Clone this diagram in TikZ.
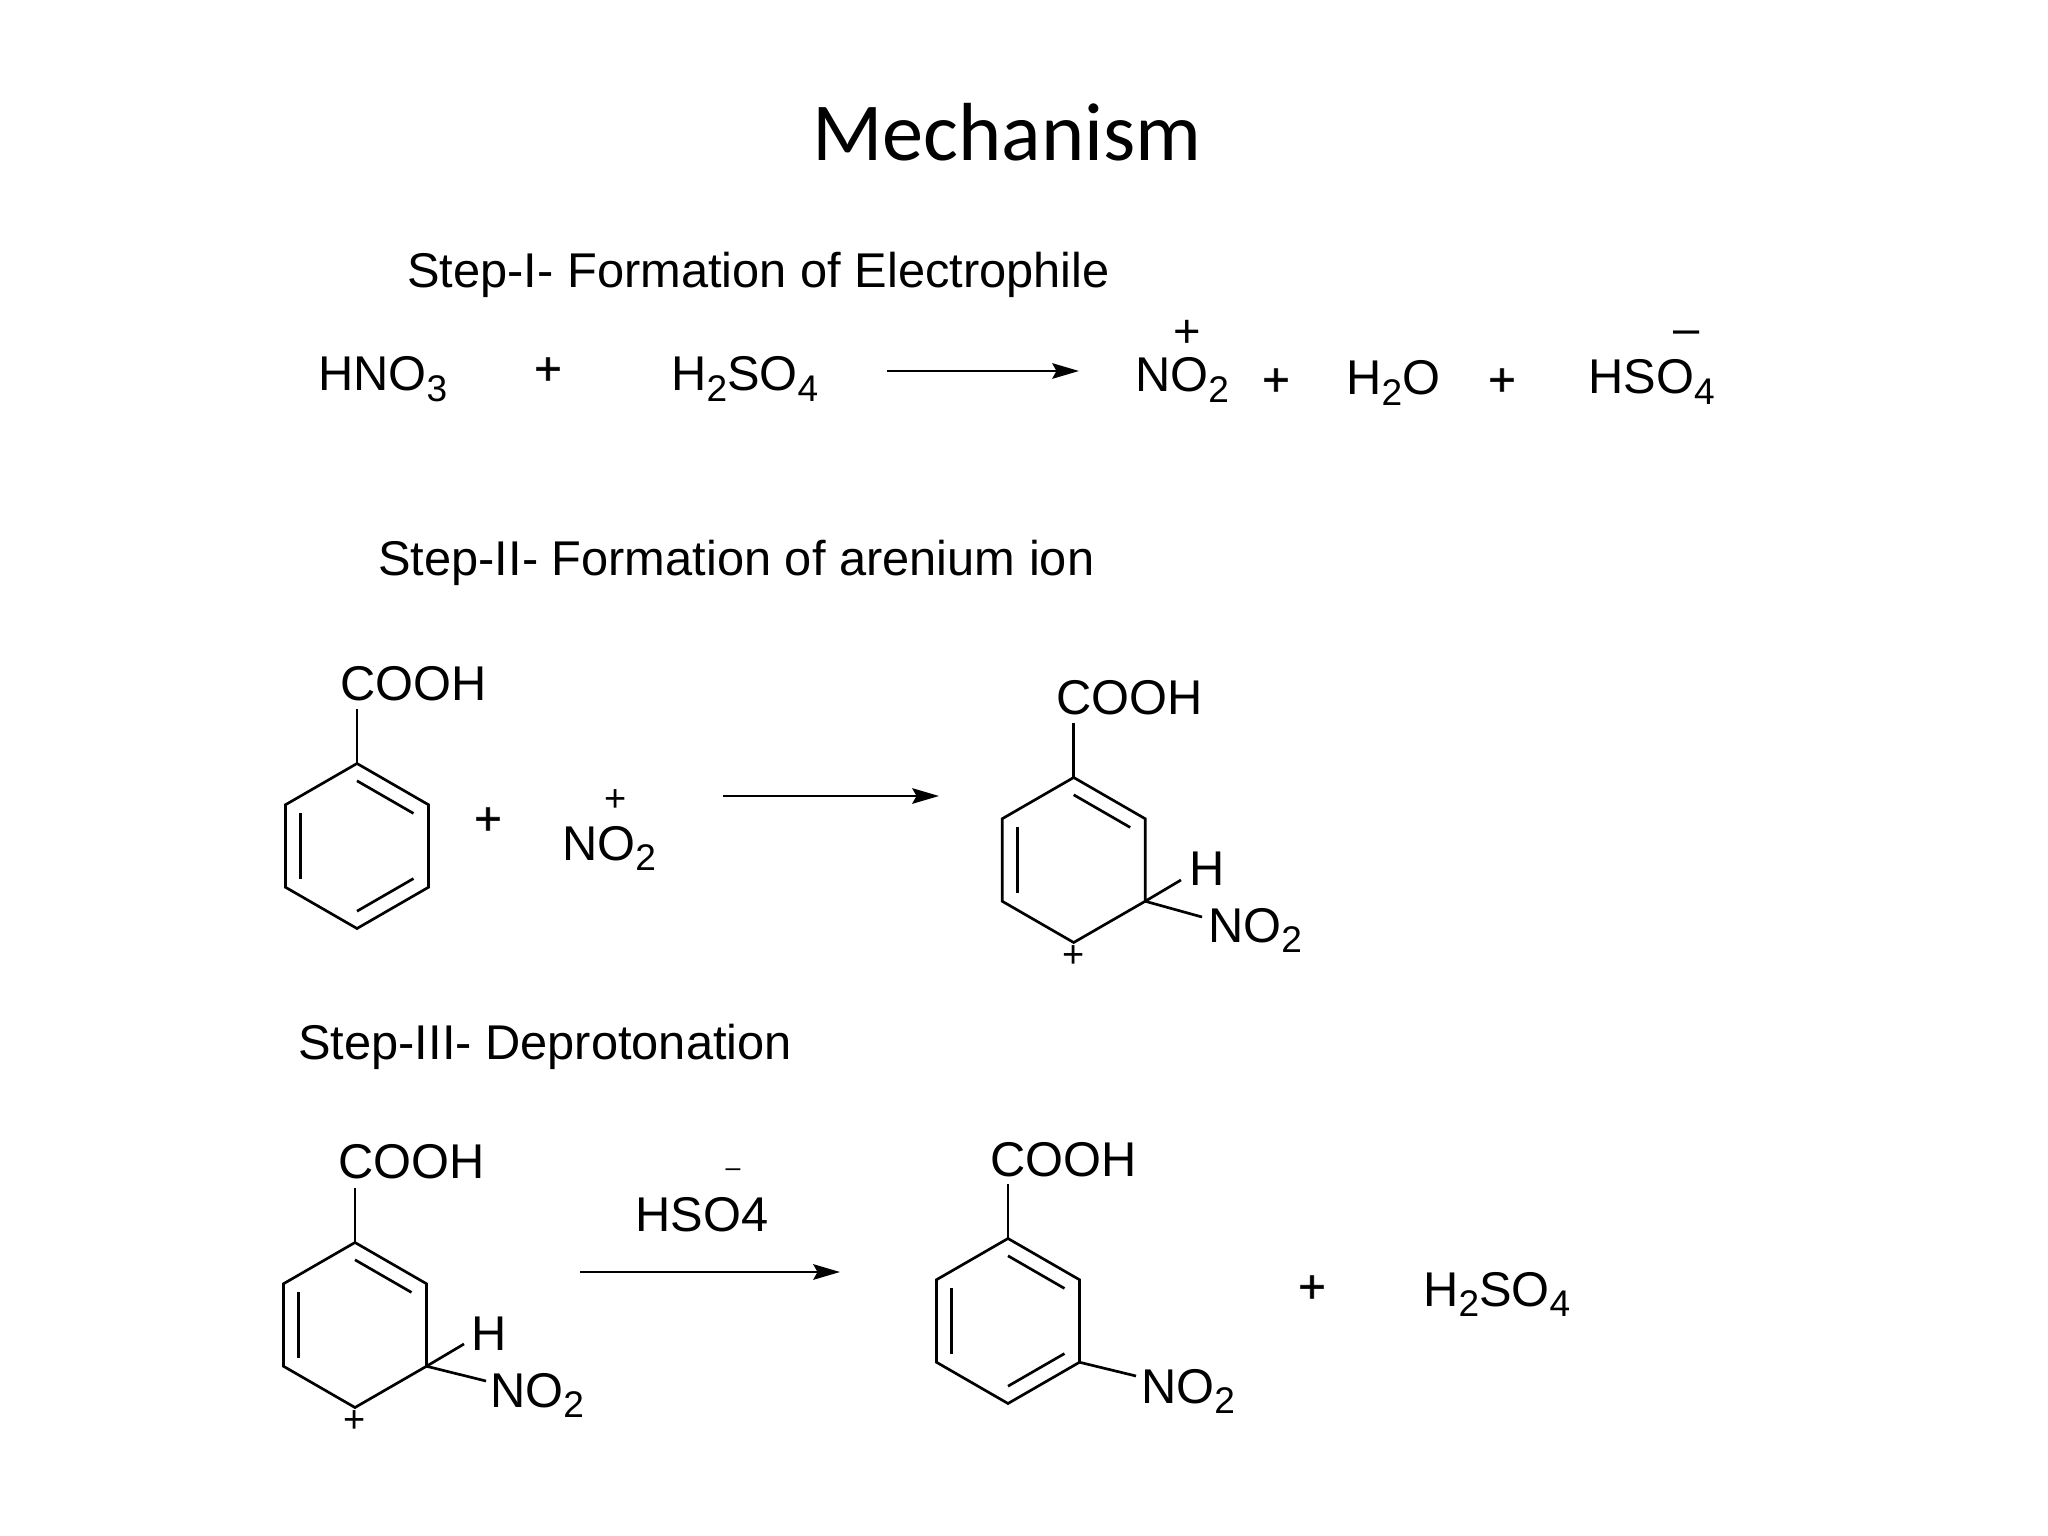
\documentclass[tikz,border=0pt]{standalone}
\usepackage{fontspec}
\usetikzlibrary{arrows.meta}
\setmainfont{Liberation Sans}
\newfontfamily\titlefont{Carlito}
\newfontfamily\plusfont[FakeBold=1.5]{Liberation Sans}
\newcommand{\chemsub}[1]{\raisebox{-0.22em}{\scalebox{0.76}{#1}}}
\tikzset{
    chem/.style={inner sep=0pt,anchor=base west,font=\fontsize{34.7}{40}\selectfont},
    bplus/.style={inner sep=0pt,font=\plusfont\fontsize{33}{40}\selectfont},
    chg/.style={inner sep=0pt,font=\fontsize{33.5}{40}\selectfont},
    chgs/.style={inner sep=0pt,font=\fontsize{27}{30}\selectfont},
    bond/.style={line width=1.9pt},
    rxn/.style={line width=1.9pt,-{Stealth[length=19pt,width=11pt,inset=3pt]}}
}
% ring: name, centre x, centre y
\newcommand{\arring}[3]{
    \foreach \n/\dx/\dy in {1/0/-82.5,2/71.5/-41.25,3/71.5/41.25,4/0/82.5,5/-71.5/41.25,6/-71.5/-41.25}{
        \coordinate (#1\n) at (#2+\dx,#3+\dy);
        \coordinate (#1i\n) at (#2+0.79*\dx,#3+0.79*\dy);
    }
    \coordinate (#1t) at (#2,#3-137.5);
    \draw[bond,line join=miter] (#11) -- (#12) -- (#13) -- (#14) -- (#15) -- (#16) -- cycle;
    \draw[bond] (#11) -- (#1t);
    \draw[bond] (#1i1) -- (#1i2);
    \draw[bond] (#1i5) -- (#1i6);
}
\begin{document}
\begin{tikzpicture}[x=0.025cm,y=-0.025cm]
    \useasboundingbox[fill=white] (0,0) rectangle (2048,1536);
    \node[inner sep=0pt,anchor=base,font=\titlefont\fontsize{58.6}{60}\selectfont] (title) at (1007,161) {Mechanism};

    % step 1
    \node[chem] (stepa) at (407,288) {Step-I- Formation of Electrophile};
    \node[chem] (hno) at (318,391) {HNO\chemsub{3}};
    \node[bplus] (pa) at (548,371) {+};
    \node[chem] (hso) at (671,391) {H\chemsub{2}SO\chemsub{4}};
    \coordinate (ra) at (887,371);
    \coordinate (rb) at (1079,371);
    \draw[rxn] (ra) -- (rb);
    \node[chg] (ca) at (1187,334) {+};
    \node[chem] (noa) at (1135,392) {NO\chemsub{2}};
    \node[bplus] (pb) at (1276,382) {+};
    \node[chem] (wat) at (1346,395) {H\chemsub{2}O};
    \node[bplus] (pc) at (1502,382) {+};
    \node[chem] (bis) at (1588,394) {HSO\chemsub{4}};
    \node[chg] (cb) at (1687,338) {--};

    % step 2
    \node[chem] (stepb) at (378,576) {Step-II- Formation of arenium ion};
    \arring{a}{357}{846}
    \draw[bond] (ai3) -- (ai4);
    \node[chem] (coa) at (340,700) {COOH};
    \node[bplus] (pd) at (488,821) {+};
    \node[chgs] (cc) at (616,801) {+};
    \node[chem] (nob) at (562,860) {NO\chemsub{2}};
    \coordinate (rc) at (723,796);
    \coordinate (rd) at (939,796);
    \draw[rxn] (rc) -- (rd);
    \arring{b}{1073.7}{860}
    \node[chem] (cob) at (1056,714) {COOH};
    \node[chgs] (cd) at (1074,957) {+};
    \node[chem] (hb) at (1189,885) {H};
    \node[chem] (noc) at (1208,942) {NO\chemsub{2}};
    \coordinate (bh) at (1181,880);
    \coordinate (bn) at (1202,917);
    \draw[bond] (b3) -- (bh);
    \draw[bond] (b3) -- (bn);

    % step 3
    \node[chem] (stepc) at (298,1059) {Step-III- Deprotonation};
    \arring{c}{355}{1325}
    \node[chem] (coc) at (338,1178) {COOH};
    \node[chgs] (ce) at (355,1422) {+};
    \node[chem] (hc) at (471,1350) {H};
    \node[chem] (nod) at (490,1407) {NO\chemsub{2}};
    \coordinate (ch) at (464,1344);
    \coordinate (cn) at (486,1381);
    \draw[bond] (c3) -- (ch);
    \draw[bond] (c3) -- (cn);
    \node[chem] (bisb) at (635,1231) {HSO4};
    \node[chgs,font=\fontsize{19}{20}\selectfont] (cf) at (733,1173) {--};
    \coordinate (re) at (580,1272);
    \coordinate (rf) at (840,1272);
    \draw[rxn] (re) -- (rf);
    \arring{d}{1008}{1321}
    \draw[bond] (di3) -- (di4);
    \node[chem] (cod) at (990,1176) {COOH};
    \coordinate (dn) at (1136,1376);
    \draw[bond] (d3) -- (dn);
    \node[chem] (noe) at (1141,1403) {NO\chemsub{2}};
    \node[bplus] (pe) at (1312,1289) {+};
    \node[chem] (hsob) at (1423,1306) {H\chemsub{2}SO\chemsub{4}};
\end{tikzpicture}
\end{document}
